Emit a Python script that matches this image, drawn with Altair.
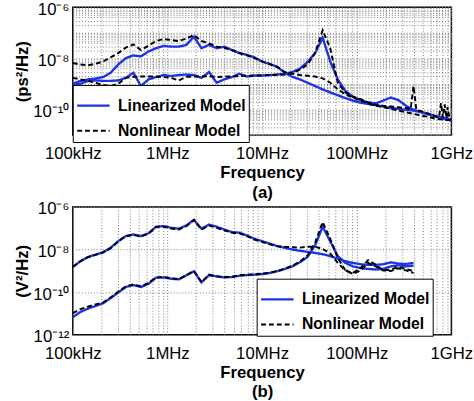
import altair as alt
import pandas as pd

# ---------------- data (log10 exponents) ----------------
# frequency grid, log10(Hz)
top_f_exp = [5.00, 5.08, 5.16, 5.24, 5.32, 5.40, 5.48, 5.56, 5.64, 5.72,
             5.80, 5.88, 5.96, 6.04, 6.12, 6.20, 6.28, 6.36, 6.44, 6.52,
             6.60, 6.68, 6.76, 6.84, 6.92, 7.00, 7.08, 7.16, 7.24, 7.32,
             7.40, 7.48, 7.56, 7.64, 7.72, 7.80, 7.88, 7.96, 8.04, 8.12,
             8.20, 8.28, 8.36, 8.44, 8.52, 8.60, 8.68, 8.76, 8.84, 8.92, 9.00]
bot_f_exp = top_f_exp[:46]

# panel (a): timing jitter PSD, log10(ps^2/Hz)
top_lin_hi = [-8.99, -8.88, -8.82, -8.79, -8.73, -8.56, -8.24, -7.99, -7.88, -7.92,
              -7.73, -7.60, -7.51, -7.54, -7.54, -7.47, -7.15, -7.60, -7.47, -7.60,
              -7.54, -7.67, -7.79, -7.86, -7.96, -8.12, -8.22, -8.33, -8.56, -8.72,
              -8.82, -8.95, -9.08, -9.21, -9.33, -9.44, -9.55, -9.65, -9.73, -9.78,
              -9.83, -9.88, -9.94, -9.97, -10.01, -10.04, -10.10, -10.17, -10.27, -10.36, -10.42]
top_lin_lo = [-9.04, -8.99, -8.88, -8.86, -8.88, -8.88, -8.86, -8.76, -8.56, -9.08,
              -8.82, -8.73, -8.65, -8.69, -8.65, -8.63, -8.65, -8.76, -8.53, -8.95,
              -8.82, -8.73, -8.60, -8.71, -8.67, -8.67, -8.65, -8.63, -8.60, -8.53,
              -8.40, -8.14, -7.79, -7.19, -8.12, -8.82, -9.27, -9.50, -9.63, -9.72,
              -9.76, -9.65, -9.53, -9.63, -9.85, -10.01, -10.10, -10.19, -10.27, -10.32, -10.40]
top_nl_hi = [-8.18, -8.24, -8.27, -8.21, -8.12, -7.96, -7.79, -7.58, -7.45, -7.67,
             -7.50, -7.32, -7.24, -7.28, -7.32, -7.22, -7.09, -7.32, -7.41, -7.54,
             -7.58, -7.67, -7.79, -7.88, -7.99, -8.12, -8.22, -8.33, -8.53, -8.60,
             -8.65, -8.68, -8.71, -8.78, -8.95, -9.21, -9.40, -9.53, -9.65, -9.76,
             -9.85, -9.91, -9.97, -10.04, -10.10, -10.17, -10.23, -10.29, -10.36, -10.40, -10.42]
# the resonant nonlinear curve has narrow spurs near 400 MHz and 1 GHz: its own grid
top_nl_lo_f_exp = [5.00, 5.08, 5.16, 5.24, 5.32, 5.40, 5.48, 5.56, 5.64, 5.72,
                   5.80, 5.88, 5.96, 6.04, 6.12, 6.20, 6.28, 6.36, 6.44, 6.52,
                   6.60, 6.68, 6.76, 6.84, 6.92, 7.00, 7.08, 7.16, 7.24, 7.32,
                   7.40, 7.48, 7.56, 7.64, 7.72, 7.80, 7.88, 7.96, 8.04, 8.12,
                   8.20, 8.28, 8.36, 8.44, 8.52, 8.57, 8.60, 8.63, 8.68, 8.76,
                   8.84, 8.87, 8.89, 8.91, 8.93, 8.95, 8.96, 8.98, 9.00]
top_nl_lo = [-8.76, -8.82, -8.88, -8.95, -9.04, -9.08, -8.99, -8.76, -8.72, -8.71,
             -8.71, -8.71, -8.73, -8.76, -8.86, -8.72, -8.71, -8.71, -8.69, -8.73,
             -8.71, -8.71, -8.68, -8.68, -8.67, -8.67, -8.65, -8.64, -8.63, -8.58,
             -8.44, -8.24, -7.79, -6.90, -7.60, -8.95, -9.33, -9.50, -9.59, -9.72,
             -9.81, -9.85, -9.88, -9.91, -9.94, -9.98, -9.08, -10.02, -10.06, -10.17,
             -10.27, -10.30, -9.75, -10.32, -9.80, -10.34, -9.90, -10.36, -10.40]

# panel (b): voltage noise PSD, log10(V^2/Hz)
bot_lin_hi = [-8.82, -8.55, -8.35, -8.24, -8.13, -7.92, -7.61, -7.37, -7.29, -7.37,
              -7.24, -6.93, -6.90, -6.98, -7.02, -6.87, -6.61, -7.02, -6.83, -6.93,
              -7.06, -7.18, -7.21, -7.34, -7.50, -7.61, -7.72, -7.84, -7.92, -8.00,
              -8.06, -8.11, -8.16, -8.22, -8.31, -8.43, -8.55, -8.63, -8.69, -8.72,
              -8.72, -8.69, -8.60, -8.66, -8.68, -8.63]
bot_nl_hi = [-8.82, -8.55, -8.36, -8.25, -8.13, -7.94, -7.62, -7.37, -7.31, -7.39,
             -7.26, -6.94, -6.93, -7.01, -7.06, -6.90, -6.61, -7.06, -6.87, -6.98,
             -7.10, -7.21, -7.24, -7.37, -7.53, -7.64, -7.76, -7.84, -7.87, -7.89,
             -7.91, -7.87, -7.87, -7.97, -8.19, -8.63, -8.98, -9.10, -8.87, -8.50,
             -8.71, -8.98, -8.94, -8.82, -8.91, -9.02]
bot_lin_lo = [-11.18, -10.93, -10.77, -10.65, -10.52, -10.28, -10.02, -9.76, -9.67, -9.76,
              -9.61, -9.32, -9.31, -9.37, -9.40, -9.21, -9.02, -9.54, -9.20, -9.26,
              -9.31, -9.29, -9.23, -9.20, -9.18, -9.15, -9.10, -9.02, -8.91, -8.79,
              -8.60, -8.35, -7.81, -6.93, -7.61, -8.31, -8.63, -8.79, -8.87, -8.91,
              -8.94, -8.91, -8.79, -8.74, -8.79, -8.76]
bot_nl_lo = [-10.99, -10.80, -10.68, -10.58, -10.49, -10.25, -9.98, -9.73, -9.64, -9.73,
             -9.57, -9.31, -9.29, -9.35, -9.39, -9.20, -9.01, -9.53, -9.18, -9.26,
             -9.29, -9.28, -9.21, -9.18, -9.17, -9.13, -9.09, -9.01, -8.90, -8.76,
             -8.57, -8.28, -7.69, -6.71, -7.50, -8.39, -8.98, -9.15, -8.98, -8.63,
             -8.79, -8.98, -9.01, -8.88, -8.98, -9.10]

MODELS = ["Linearized Model", "Nonlinear Model"]
BLUE = "#1e32e6"
FONT = "Liberation Sans"


def long_df(series):
    rows = []
    for model, curve, f_exp, vals in series:
        for fe, ve in zip(f_exp, vals):
            rows.append({"freq": 10 ** fe, "psd": 10 ** ve, "model": model, "curve": curve})
    return pd.DataFrame(rows)


top_df = long_df([
    (MODELS[0], "a", top_f_exp, top_lin_hi), (MODELS[0], "b", top_f_exp, top_lin_lo),
    (MODELS[1], "a", top_f_exp, top_nl_hi), (MODELS[1], "b", top_nl_lo_f_exp, top_nl_lo)])
bot_df = long_df([
    (MODELS[0], "a", bot_f_exp, bot_lin_hi), (MODELS[0], "b", bot_f_exp, bot_lin_lo),
    (MODELS[1], "a", bot_f_exp, bot_nl_hi), (MODELS[1], "b", bot_f_exp, bot_nl_lo)])

# grid positions (minor ticks of the log axes)
x_grid = [m * 10 ** d for d in range(5, 9) for m in range(1, 10)] + [10 ** 9]
top_y_grid = [m * 10.0 ** d for d in range(-11, -6) for m in range(1, 10)] + [1e-6]
bot_y_grid = [1e-12, 1e-10, 1e-8, 1e-6]

LG = "log(datum.value)/LN10"
DEC = f"abs({LG} - round({LG})) > 0.01"
x_label_expr = (f"{DEC} ? '' : round({LG}) == 5 ? '100kHz' : round({LG}) == 6 ? '1MHz' : "
                f"round({LG}) == 7 ? '10MHz' : round({LG}) == 8 ? '100MHz' : '1GHz'")
y_label_expr = (f"{DEC} ? '' : round({LG}) == -6 ? '10⁻⁶' : round({LG}) == -8 ? '10⁻⁸' : "
                f"round({LG}) == -10 ? '10⁻¹⁰' : round({LG}) == -12 ? '10⁻¹²' : ''")


def panel(df, y_title, tag, y_domain, y_grid, lx, ly):
    leg = alt.Legend(title=None, orient="none", legendX=lx, legendY=ly,
                     fillColor="white", strokeColor="black", padding=3,
                     labelFont=FONT, labelFontSize=16, labelFontWeight="bold",
                     labelColor="black", labelOffset=7, rowPadding=-5,
                     symbolType="stroke", symbolSize=1089, symbolStrokeWidth=2.4)
    return alt.Chart(df).mark_line().encode(
        x=alt.X("freq:Q",
                scale=alt.Scale(type="log", domain=[1e5, 1e9], nice=False),
                axis=alt.Axis(values=x_grid, labelExpr=x_label_expr,
                              title=["Frequency", tag])),
        y=alt.Y("psd:Q",
                scale=alt.Scale(type="log", domain=y_domain, nice=False),
                axis=alt.Axis(values=y_grid, labelExpr=y_label_expr, title=y_title)),
        color=alt.Color("model:N", scale=alt.Scale(domain=MODELS, range=[BLUE, "black"]),
                        legend=leg),
        strokeDash=alt.StrokeDash("model:N",
                                  scale=alt.Scale(domain=MODELS, range=[[1, 0], [5, 3]]),
                                  legend=leg),
        strokeWidth=alt.StrokeWidth("model:N",
                                    scale=alt.Scale(domain=MODELS, range=[2.4, 2.0]),
                                    legend=None),
        detail="curve:N",
    ).properties(width=385, height=130)


top = panel(top_df, "(ps²/Hz)", "(a)", [1e-11, 1e-6], top_y_grid, 0, 79)
bot = panel(bot_df, "(V²/Hz)", "(b)", [1e-12, 1e-6], bot_y_grid, 187, 73)

chart = alt.vconcat(top, bot, spacing=-2).resolve_scale(
    color="independent", strokeDash="independent", strokeWidth="independent"
).resolve_legend(
    color="independent", strokeDash="independent"
).properties(
    padding={"left": 13, "top": -4, "right": 0, "bottom": 0},
    background="white"
).configure_axis(
    labelFont=FONT, labelFontSize=17, labelColor="black",
    titleFont=FONT, titleFontSize=17, titleFontWeight="bold", titleColor="black",
    domain=False, ticks=False, grid=True, gridColor="#808080", gridDash=[1, 2],
    gridWidth=1, labelFlush=False, labelOverlap=False, labelBound=False
).configure_axisX(
    labelPadding=11, titlePadding=3, titleLineHeight=20
).configure_axisY(
    labelPadding=4, titlePadding=1, labelOffset=2
).configure_view(
    stroke="black", strokeWidth=1.5
)

chart.save("out.html", embed_options={"renderer": "svg", "actions": False})
